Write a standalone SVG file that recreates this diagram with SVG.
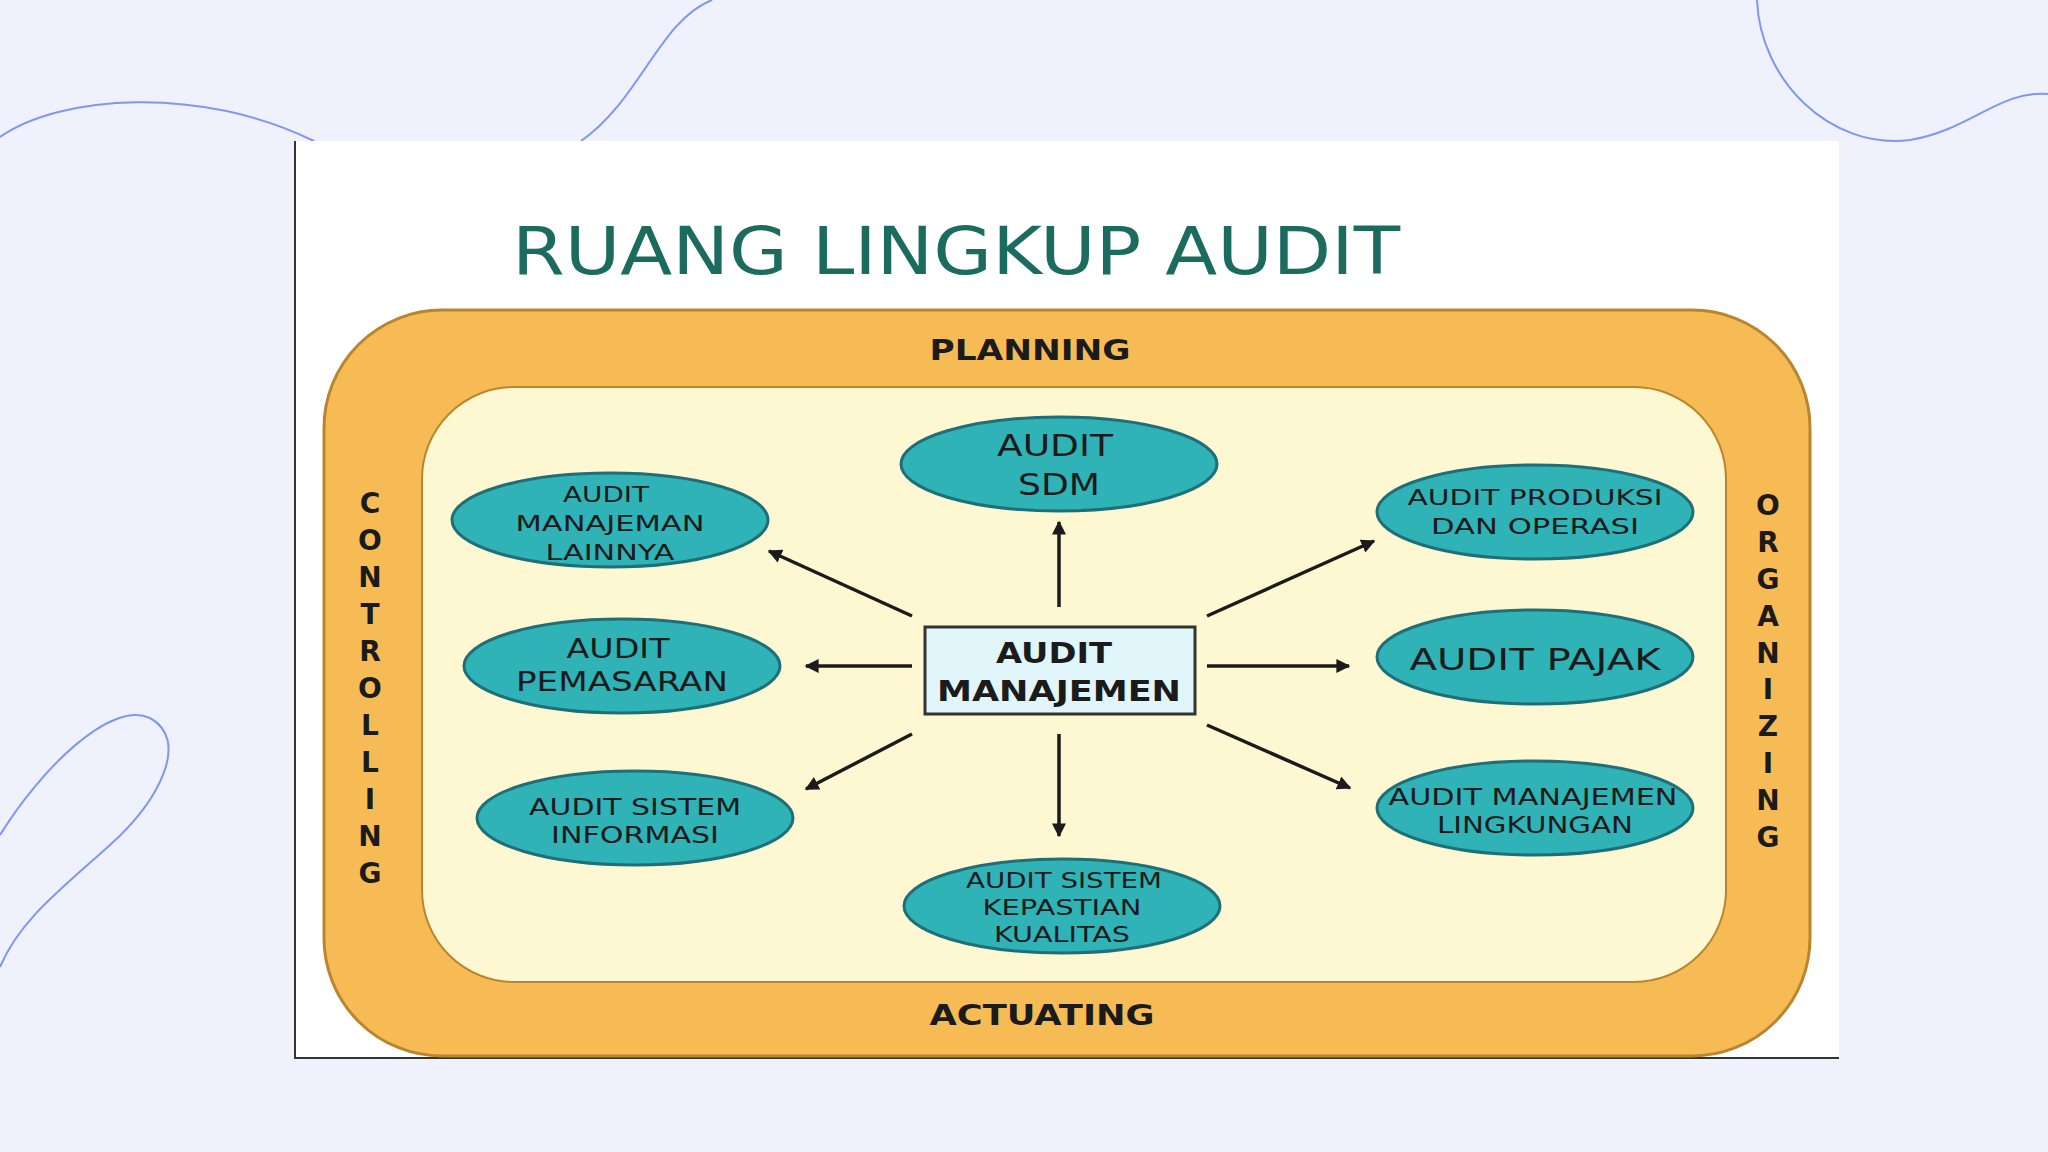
<svg xmlns="http://www.w3.org/2000/svg" width="2048" height="1152" viewBox="0 0 2048 1152">
<defs>
<style>
.deco{fill:none;stroke:#8097ef;stroke-width:2}
.ell{fill:#2fb3b6;stroke:#1f6f78;stroke-width:3}
.t{font-family:"DejaVu Sans","Liberation Sans",sans-serif;fill:#1b1b1b;text-anchor:middle}
.side{font-family:"DejaVu Sans","Liberation Sans",sans-serif;font-weight:bold;font-size:28px;fill:#1b1b1b;text-anchor:middle}
.conn line{stroke:#1b1b1b;stroke-width:3.5;marker-end:url(#ah)}
</style>
<marker id="ah" viewBox="0 0 10 10" refX="9" refY="5" markerWidth="4" markerHeight="4" orient="auto"><path d="M0,0L10,5L0,10z" fill="#1b1b1b"/></marker>
</defs>
<rect width="2048" height="1152" fill="#eff2fd"/>
<path class="deco" d="M0,137 C60,95 200,85 314,141"/>
<path class="deco" d="M581,141 C640,100 660,20 712,0"/>
<path class="deco" d="M1757,0 C1760,80 1830,150 1910,140 C1970,130 2000,90 2048,94"/>
<path class="deco" d="M0,835 C40,770 110,700 150,718 C190,740 160,800 110,845 C60,890 20,920 0,967"/>
<rect x="294" y="141" width="1545" height="917" fill="#ffffff"/>
<path d="M295,141 V1058 H1839" fill="none" stroke="#333" stroke-width="2"/>
<text x="512" y="274" font-family="DejaVu Sans,Liberation Sans,sans-serif" font-size="66" fill="#1b6b5f" textLength="888" lengthAdjust="spacingAndGlyphs">RUANG LINGKUP AUDIT</text>
<rect x="324" y="310" width="1486" height="746" rx="118" fill="#f6bb55" stroke="#b9862e" stroke-width="3"/>
<rect x="422" y="387" width="1304" height="595" rx="92" fill="#fdf8d2" stroke="#b9862e" stroke-width="2"/>
<text class="side" x="1030" y="360" textLength="201" lengthAdjust="spacingAndGlyphs">PLANNING</text>
<text class="side" x="1042" y="1025" textLength="225" lengthAdjust="spacingAndGlyphs">ACTUATING</text>
<g>
<text class="side" x="370" y="513">C</text><text class="side" x="370" y="550">O</text><text class="side" x="370" y="587">N</text><text class="side" x="370" y="624">T</text><text class="side" x="370" y="661">R</text><text class="side" x="370" y="698">O</text><text class="side" x="370" y="735">L</text><text class="side" x="370" y="772">L</text><text class="side" x="370" y="809">I</text><text class="side" x="370" y="846">N</text><text class="side" x="370" y="883">G</text>
<text class="side" x="1768" y="515">O</text><text class="side" x="1768" y="552">R</text><text class="side" x="1768" y="589">G</text><text class="side" x="1768" y="626">A</text><text class="side" x="1768" y="663">N</text><text class="side" x="1768" y="699">I</text><text class="side" x="1768" y="736">Z</text><text class="side" x="1768" y="773">I</text><text class="side" x="1768" y="810">N</text><text class="side" x="1768" y="847">G</text>
</g>
<g class="conn">
<line x1="1059" y1="607" x2="1059" y2="522"/>
<line x1="1059" y1="734" x2="1059" y2="836"/>
<line x1="912" y1="666" x2="806" y2="666"/>
<line x1="1207" y1="666" x2="1349" y2="666"/>
<line x1="912" y1="616" x2="769" y2="551"/>
<line x1="1207" y1="616" x2="1374" y2="541"/>
<line x1="912" y1="734" x2="806" y2="789"/>
<line x1="1207" y1="725" x2="1350" y2="788"/>
</g>
<g id="center"><rect x="925" y="627" width="270" height="87" fill="#e1f6fb" stroke="#333" stroke-width="3"/>
<text class="t" x="1054" y="663" font-size="29" font-weight="bold" textLength="116" lengthAdjust="spacingAndGlyphs">AUDIT</text><text class="t" x="1059" y="701" font-size="29" font-weight="bold" textLength="244" lengthAdjust="spacingAndGlyphs">MANAJEMEN</text></g>
<g id="sdm"><ellipse class="ell" cx="1059" cy="464" rx="158" ry="47"/><text class="t" x="1055" y="456" font-size="31" textLength="116" lengthAdjust="spacingAndGlyphs">AUDIT</text><text class="t" x="1059" y="495" font-size="31" textLength="82" lengthAdjust="spacingAndGlyphs">SDM</text></g>
<g id="lainnya"><ellipse class="ell" cx="610" cy="520" rx="158" ry="47"/><text class="t" x="606" y="502" font-size="22" textLength="86" lengthAdjust="spacingAndGlyphs">AUDIT</text><text class="t" x="610" y="531" font-size="22" textLength="189" lengthAdjust="spacingAndGlyphs">MANAJEMAN</text><text class="t" x="610" y="560" font-size="22" textLength="129" lengthAdjust="spacingAndGlyphs">LAINNYA</text></g>
<g id="produksi"><ellipse class="ell" cx="1535" cy="512" rx="158" ry="47"/><text class="t" x="1535" y="505" font-size="22" textLength="255" lengthAdjust="spacingAndGlyphs">AUDIT PRODUKSI</text><text class="t" x="1535" y="534" font-size="22" textLength="208" lengthAdjust="spacingAndGlyphs">DAN OPERASI</text></g>
<g id="pemasaran"><ellipse class="ell" cx="622" cy="666" rx="158" ry="47"/><text class="t" x="618" y="658" font-size="26" textLength="103" lengthAdjust="spacingAndGlyphs">AUDIT</text><text class="t" x="622" y="691" font-size="26" textLength="212" lengthAdjust="spacingAndGlyphs">PEMASARAN</text></g>
<g id="pajak"><ellipse class="ell" cx="1535" cy="657" rx="158" ry="47"/><text class="t" x="1535" y="670" font-size="31" textLength="251" lengthAdjust="spacingAndGlyphs">AUDIT PAJAK</text></g>
<g id="informasi"><ellipse class="ell" cx="635" cy="818" rx="158" ry="47"/><text class="t" x="635" y="815" font-size="23" textLength="212" lengthAdjust="spacingAndGlyphs">AUDIT SISTEM</text><text class="t" x="635" y="843" font-size="23" textLength="168" lengthAdjust="spacingAndGlyphs">INFORMASI</text></g>
<g id="lingkungan"><ellipse class="ell" cx="1535" cy="808" rx="158" ry="47"/><text class="t" x="1533" y="805" font-size="23" textLength="289" lengthAdjust="spacingAndGlyphs">AUDIT MANAJEMEN</text><text class="t" x="1535" y="833" font-size="23" textLength="196" lengthAdjust="spacingAndGlyphs">LINGKUNGAN</text></g>
<g id="kepastian"><ellipse class="ell" cx="1062" cy="906" rx="158" ry="47"/><text class="t" x="1064" y="888" font-size="22" textLength="196" lengthAdjust="spacingAndGlyphs">AUDIT SISTEM</text><text class="t" x="1062" y="915" font-size="22" textLength="159" lengthAdjust="spacingAndGlyphs">KEPASTIAN</text><text class="t" x="1062" y="942" font-size="22" textLength="136" lengthAdjust="spacingAndGlyphs">KUALITAS</text></g>
</svg>
